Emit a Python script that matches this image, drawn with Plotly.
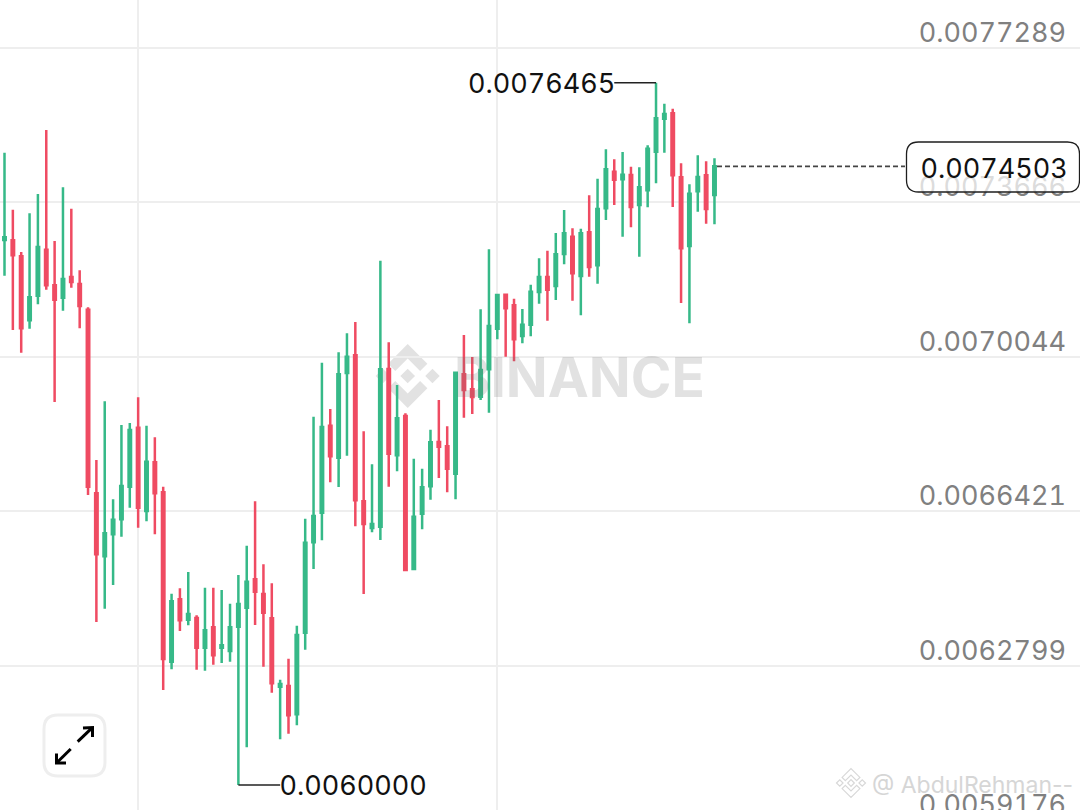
import plotly.graph_objects as go

W = 1080
H = 830  # a bit taller than the window, the lowest grid line falls just under it

# prices in units of 1e-7
OPEN = [72776, 72769, 72394, 70893, 71470, 72549, 71713, 71423, 71909, 71744,
        71142, 66837, 65360, 65876, 66227, 66992, 68375, 66422, 67563, 66861,
        62888, 64351, 63873, 63913, 63217, 63695, 63217, 63139, 63709, 64154,
        64820, 64476, 63906, 62302, 62318, 61655, 63568, 65688, 66382, 68421,
        67671, 69657, 70072, 66650, 66023, 66054, 69751, 67727, 68649, 65062,
        66359, 67001, 68039, 67938, 67296, 69627, 69275, 69101, 69744, 70696,
        71493, 71245, 70525, 70790, 71557, 71909, 71698, 72448, 72853, 71932,
        72957, 72183, 73519, 74377, 74199, 74299, 73597, 73941, 74846, 75620,
        75746, 74246, 72635, 73918, 74293, 73831]
HIGH = [74822, 73487, 72495, 73402, 73855, 75355, 72753, 74012, 73510, 72066,
        71198, 67618, 68994, 66696, 68438, 68485, 69087, 68421, 68149, 66992,
        64483, 64609, 64992, 63976, 64623, 64623, 64570, 64248, 64921, 65608,
        66650, 65172, 64727, 62466, 62959, 63732, 66242, 68632, 69899, 68813,
        70143, 70588, 70853, 68290, 67516, 72291, 70377, 69376, 68712, 67648,
        67413, 68328, 69024, 68407, 69681, 70548, 70033, 71151, 72558, 71493,
        71510, 71399, 71158, 71728, 72347, 72525, 72940, 73480, 73050, 73041,
        73824, 74213, 74902, 74668, 74839, 74494, 74480, 74996, 76465, 75971,
        75854, 74574, 74082, 74760, 74620, 74691]
LOW = [71939, 70666, 70133, 70696, 71268, 71611, 68977, 71118, 71658, 70705,
       66797, 63819, 64131, 64687, 65819, 66499, 66031, 66181, 65876, 62224,
       62710, 63608, 63742, 62701, 62677, 62818, 62858, 62888, 60000, 60881,
       63749, 62771, 62161, 61069, 61200, 61397, 63170, 65062, 65735, 67095,
       66985, 67718, 66063, 64476, 65923, 65742, 66992, 67351, 65039, 65039,
       65993, 66687, 67195, 66861, 66696, 68609, 68696, 69024, 68726, 70448,
       70040, 69931, 70354, 70518, 71282, 70884, 71369, 72206, 71353, 71010,
       71916, 71751, 73245, 73597, 72853, 73074, 72385, 73543, 74106, 74822,
       73550, 71299, 70823, 73440, 73158, 73144]
CLOSE = [72839, 72417, 70705, 71432, 72612, 71713, 71376, 71862, 71791, 71228,
         66992, 65407, 65899, 66218, 67008, 68321, 66499, 67577, 66837, 62952,
         64305, 63859, 64007, 63217, 63625, 63038, 63273, 63695, 64241, 64764,
         64530, 64037, 62382, 62365, 61631, 63514, 65679, 66305, 68391, 67704,
         69627, 70040, 66673, 66117, 66117, 69744, 67765, 68595, 65039, 66288,
         66978, 68032, 67929, 67413, 69664, 69258, 69094, 69727, 70759, 71486,
         71174, 70448, 70790, 71564, 71909, 71611, 72441, 72933, 71995, 72933,
         72143, 73503, 74433, 74189, 74307, 73550, 74012, 74916, 75629, 75730,
         74292, 72581, 73862, 74253, 73503, 74503]
Y_TICKS = [0.0077289, 0.0073666, 0.0070044, 0.0066421, 0.0062799, 0.0059176]
X_GRID = [16, 59]
LAST_PRICE = 0.0074503
PEAK_PRICE = 0.0076465
PEAK_INDEX = 78
FLOOR_PRICE = 0.0060000
FLOOR_INDEX = 28

GREEN = "#36b988"
RED = "#ef4b62"
FONT = "Inter"


def scaled(values):
    return [v / 1e7 for v in values]


def pt(x, y):
    # window pixels to paper coordinates
    return f"{x / W:.5f},{1 - y / H:.5f}"


def poly(points, closed=True):
    body = " L".join(pt(x, y) for x, y in points)
    return "M" + body + (" Z" if closed else "")


def round_rect(x0, y0, x1, y1, r):
    return ("M" + pt(x0 + r, y0) + " L" + pt(x1 - r, y0)
            + " Q" + pt(x1, y0) + " " + pt(x1, y0 + r)
            + " L" + pt(x1, y1 - r) + " Q" + pt(x1, y1) + " " + pt(x1 - r, y1)
            + " L" + pt(x0 + r, y1) + " Q" + pt(x0, y1) + " " + pt(x0, y1 - r)
            + " L" + pt(x0, y0 + r) + " Q" + pt(x0, y0) + " " + pt(x0 + r, y0) + " Z")


def logo(cx, cy, half):
    # the diamond mark, drawn on a -16..16 grid
    parts = [
        [(-6.21, -2.55), (0, -8.76), (6.21, -2.55), (9.82, -6.16), (0, -16), (-9.82, -6.16)],
        [(-16, 0), (-12.39, -3.61), (-8.78, 0), (-12.39, 3.61)],
        [(-6.21, 2.55), (0, 8.76), (6.21, 2.55), (9.83, 6.16), (0, 16), (-9.82, 6.16)],
        [(8.78, 0), (12.39, -3.61), (16, 0), (12.39, 3.61)],
        [(3.66, 0), (0, -3.66), (-3.66, 0), (0, 3.66)],
    ]
    k = half / 16
    return " ".join(poly([(cx + a * k, cy + b * k) for a, b in p]) for p in parts)


fig = go.Figure()
fig.add_trace(go.Candlestick(
    x=list(range(len(OPEN))),
    open=scaled(OPEN),
    high=scaled(HIGH),
    low=scaled(LOW),
    close=scaled(CLOSE),
    increasing=dict(line=dict(color=GREEN, width=2.5), fillcolor=GREEN),
    decreasing=dict(line=dict(color=RED, width=2.5), fillcolor=RED),
    whiskerwidth=0,
    showlegend=False,
))

shapes = []
# watermark mark stays behind the candles
shapes.append(dict(type="path", path=logo(407.7, 376, 32), xref="paper", yref="paper",
                   fillcolor="#e2e2e2", line=dict(width=0), layer="below"))
shapes.append(dict(type="path", path=logo(851, 783, 14.5), xref="paper", yref="paper",
                   fillcolor="rgba(0,0,0,0)", line=dict(color="#d8d8d8", width=1.2), layer="below"))
# high / low callouts
shapes.append(dict(type="line", xref="x", yref="y", x0=PEAK_INDEX - 5, x1=PEAK_INDEX,
                   y0=PEAK_PRICE, y1=PEAK_PRICE, line=dict(color="#222222", width=1.5)))
shapes.append(dict(type="line", xref="x", yref="y", x0=FLOOR_INDEX, x1=FLOOR_INDEX + 5,
                   y0=FLOOR_PRICE, y1=FLOOR_PRICE, line=dict(color="#222222", width=1.5)))
# last price line and its box
shapes.append(dict(type="line", xref="paper", yref="y", x0=717 / W, x1=905 / W,
                   y0=LAST_PRICE, y1=LAST_PRICE, line=dict(color="#444444", width=1.6, dash="5px,3px")))
shapes.append(dict(type="path", path=round_rect(906.5, 142, 1079.5, 192, 12), xref="paper", yref="paper",
                   fillcolor="rgba(255,255,255,0.72)", line=dict(color="#1e1e1e", width=1.3)))
# expand button
shapes.append(dict(type="path", path=round_rect(44, 715, 105, 776, 14), xref="paper", yref="paper",
                   fillcolor="#ffffff", line=dict(color="#eeeeee", width=3)))
for seg in [[(77.7, 741.7), (92.3, 727.7)], [(83, 728), (92.5, 727.5), (92.5, 737)],
            [(70.7, 749), (56.5, 763)], [(56.5, 753.5), (56.5, 763), (66, 763)]]:
    shapes.append(dict(type="path", path=poly(seg, closed=False), xref="paper", yref="paper",
                       fillcolor="rgba(0,0,0,0)", line=dict(color="#000000", width=3)))

annotations = [
    dict(x=(455 + 703) / 2 / W, y=1 - 377 / H, xref="paper", yref="paper", xanchor="center", yanchor="middle",
         text="BINANCE", showarrow=False,
         font=dict(family=FONT, size=55, color="rgba(110,110,110,0.2)", weight=700)),
    dict(x=870 / W, y=1 - 785 / H, xref="paper", yref="paper", xanchor="left", yanchor="middle",
         text='<span style="font-feature-settings:normal">@ AbdulRehman--</span>', showarrow=False,
         font=dict(family=FONT, size=23, color="#d6d6d6")),
    dict(x=PEAK_INDEX - 5, y=PEAK_PRICE, xref="x", yref="y", xanchor="center", yanchor="middle",
         text=f"{PEAK_PRICE:.7f}", showarrow=False,
         xshift=-73, yshift=-1, font=dict(family=FONT, size=27, color="#111111")),
    dict(x=FLOOR_INDEX + 5, y=FLOOR_PRICE, xref="x", yref="y", xanchor="center", yanchor="middle",
         text=f"{FLOOR_PRICE:.7f}", showarrow=False,
         xshift=73, yshift=-1, font=dict(family=FONT, size=27, color="#111111")),
    dict(x=993.5 / W, y=LAST_PRICE, xref="paper", yref="y", xanchor="center", yanchor="middle",
         text=f"{LAST_PRICE:.7f}", showarrow=False,
         yshift=-2, font=dict(family=FONT, size=27, color="#111111")),
]

fig.update_layout(
    width=W,
    height=H,
    margin=dict(l=0, r=0, t=0, b=0),
    paper_bgcolor="white",
    plot_bgcolor="white",
    boxgap=0.58,
    showlegend=False,
    shapes=shapes,
    annotations=annotations,
    xaxis=dict(
        range=[-0.539, 128.76],
        tickvals=X_GRID,
        showticklabels=False,
        ticks="",
        showgrid=True,
        gridcolor="#eeeeee",
        gridwidth=1.5,
        zeroline=False,
        showline=False,
        rangeslider=dict(visible=False),
    ),
    yaxis=dict(
        range=[0.0058942, 0.0078403],
        side="right",
        tickvals=Y_TICKS,
        ticktext=[f"{v:.7f}" for v in Y_TICKS],
        ticks="",
        ticklabelposition="inside",
        ticklabelstandoff=11,
        ticklabelshift=-15,
        tickfont=dict(family=FONT, size=27, color="#808080"),
        showgrid=True,
        gridcolor="#eeeeee",
        gridwidth=1.5,
        zeroline=False,
        showline=False,
    ),
)

# tabular digits, the price labels all have the same width in the reference
fig.write_html("out.html", config=dict(displayModeBar=False),
               post_script="document.documentElement.style.overflow='hidden';document.body.style.margin='0';document.body.style.overflow='hidden';document.body.style.fontFeatureSettings='\"tnum\"';")
